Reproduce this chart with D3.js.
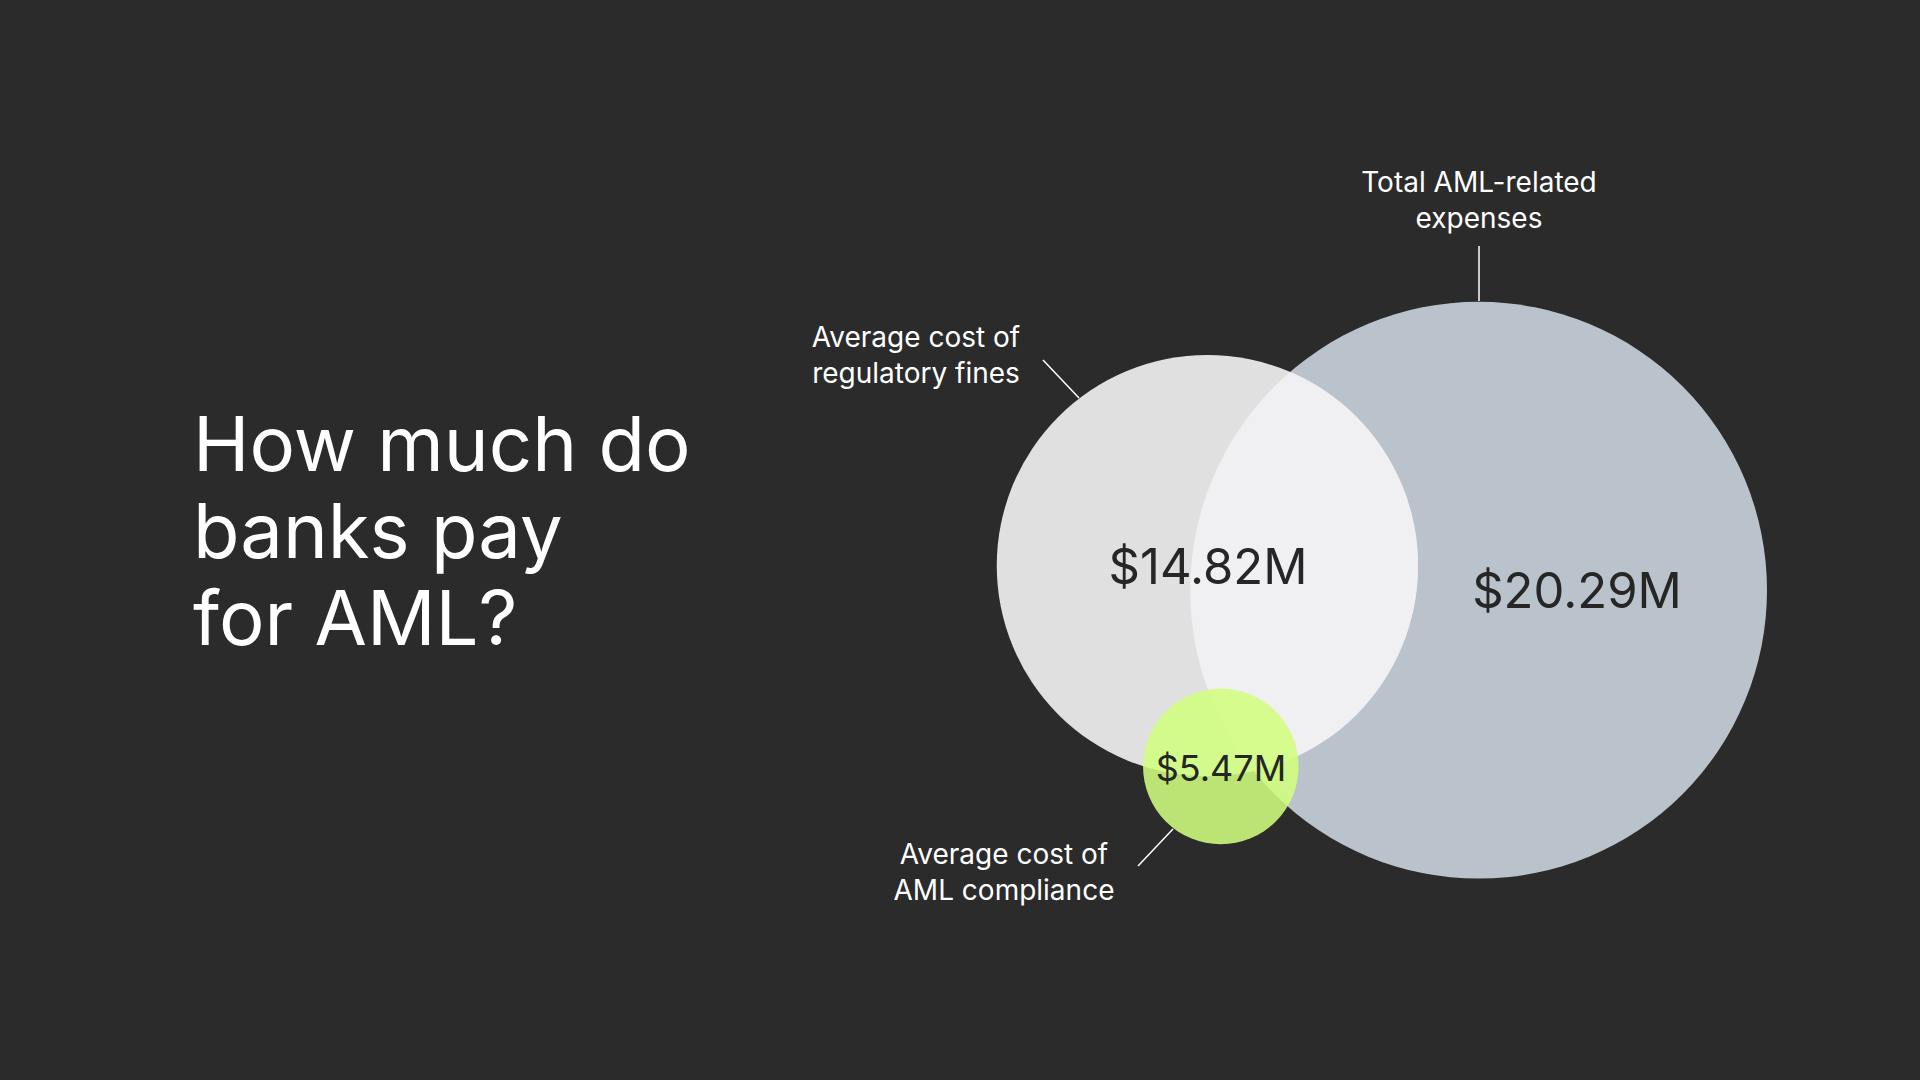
<!DOCTYPE html>
<html><head><meta charset="utf-8">
<script src="https://cdn.jsdelivr.net/npm/d3@7"></script>
<style>body{margin:0;background:#2b2b2b;}svg{display:block;}</style>
</head><body>
<script>
const categories = ["Total AML-related expenses", "Average cost of regulatory fines", "Average cost of AML compliance"];
const values = [20.29, 14.82, 5.47];
const valueLabels = ["$20.29M", "$14.82M", "$5.47M"];
const titleLines = ["How much do", "banks pay", "for AML?"];

const W = 1920, H = 1080;
const svg = d3.select("body").append("svg").attr("width", W).attr("height", H);
svg.append("rect").attr("width", W).attr("height", H).attr("fill", "#2b2b2b");
const font = "Inter, 'Open Sans', sans-serif";

const r = d3.scaleLinear().domain([0, 20.29]).range([0, 288.4]);
const centers = [[1478.6, 590.2], [1207.4, 565.7], [1220.8, 766.5]];
const fills = ["#bac3cc", "#e1e0e1", "rgb(208,254,126)"];
const circles = values.map((v, i) => ({v, cx: centers[i][0], cy: centers[i][1], r: r(v)}));

const defs = svg.append("defs");
defs.append("clipPath").attr("id", "clipBig").append("circle")
  .attr("cx", circles[0].cx).attr("cy", circles[0].cy).attr("r", circles[0].r);

svg.selectAll("circle.main").data(circles.slice(0, 2)).join("circle").attr("class", "main")
  .attr("cx", d => d.cx).attr("cy", d => d.cy).attr("r", d => d.r)
  .attr("fill", (d, i) => fills[i]);
svg.append("circle").attr("clip-path", "url(#clipBig)")
  .attr("cx", circles[1].cx).attr("cy", circles[1].cy).attr("r", circles[1].r).attr("fill", "#f0eff1");
svg.append("circle").attr("cx", circles[2].cx).attr("cy", circles[2].cy).attr("r", circles[2].r)
  .attr("fill", fills[2]).attr("fill-opacity", 0.88);

// value labels
const valPos = [[1577, 608, 49], [1208, 584, 49], [1221, 781, 36]];
valueLabels.forEach((t, i) => {
  svg.append("text").attr("x", valPos[i][0]).attr("y", valPos[i][1]).attr("text-anchor", "middle")
    .attr("font-family", font).attr("font-size", valPos[i][2]).attr("fill", "#262626").text(t);
});

// annotations
const ann = [
  {lines: ["Total AML-related", "expenses"], x: 1479, y: 192, l: [1479, 246, 1479, 301]},
  {lines: ["Average cost of", "regulatory fines"], x: 916, y: 347, l: [1043, 360, 1079, 398]},
  {lines: ["Average cost of", "AML compliance"], x: 1004, y: 864, l: [1138, 866, 1173, 829]}
];
ann.forEach(a => {
  a.lines.forEach((t, j) => svg.append("text").attr("x", a.x).attr("y", a.y + j * 36)
    .attr("text-anchor", "middle").attr("font-family", font).attr("font-size", 28)
    .attr("fill", "#ffffff").text(t));
  svg.append("line").attr("x1", a.l[0]).attr("y1", a.l[1]).attr("x2", a.l[2]).attr("y2", a.l[3])
    .attr("stroke", "#ffffff").attr("stroke-width", 1.5);
});

titleLines.forEach((t, i) => svg.append("text").attr("x", 193).attr("y", 471 + i * 87)
  .attr("font-family", font).attr("font-size", 76).attr("fill", "#ffffff").text(t));
</script>
</body></html>
